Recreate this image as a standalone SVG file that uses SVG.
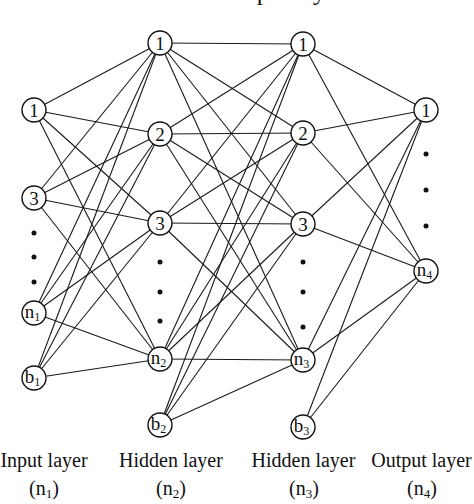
<svg xmlns="http://www.w3.org/2000/svg" width="474" height="504" viewBox="0 0 474 504">
<style>
.n circle{fill:#fff;stroke:#111;stroke-width:1.4}
.n text{font-family:"Liberation Serif","Times New Roman",serif;font-size:19px;text-anchor:middle;fill:#111}
.sub{font-size:12px}
#connectors line{stroke:#1a1a1a;stroke-width:1.1}
.dot{fill:#111}
.lbl{font-family:"Liberation Serif","Times New Roman",serif;font-size:20px;text-anchor:middle;fill:#111}
.lsub{font-size:13px}
</style>
<rect width="474" height="504" fill="#fff"/>
<text class="lbl" x="282" y="0" style="font-size:25px">Output layer</text>
<g id="connectors">
<line x1="34" y1="110" x2="160" y2="43"/><line x1="34" y1="110" x2="160" y2="134"/><line x1="34" y1="110" x2="160" y2="223"/><line x1="34" y1="110" x2="160" y2="359"/>
<line x1="34" y1="198" x2="160" y2="43"/><line x1="34" y1="198" x2="160" y2="134"/><line x1="34" y1="198" x2="160" y2="223"/><line x1="34" y1="198" x2="160" y2="359"/>
<line x1="34" y1="313" x2="160" y2="43"/><line x1="34" y1="313" x2="160" y2="134"/><line x1="34" y1="313" x2="160" y2="223"/><line x1="34" y1="313" x2="160" y2="359"/>
<line x1="34" y1="378" x2="160" y2="43"/><line x1="34" y1="378" x2="160" y2="134"/><line x1="34" y1="378" x2="160" y2="223"/><line x1="34" y1="378" x2="160" y2="359"/>
<line x1="160" y1="43" x2="303" y2="44"/><line x1="160" y1="43" x2="303" y2="133"/><line x1="160" y1="43" x2="303" y2="224"/><line x1="160" y1="43" x2="303" y2="360"/>
<line x1="160" y1="134" x2="303" y2="44"/><line x1="160" y1="134" x2="303" y2="133"/><line x1="160" y1="134" x2="303" y2="224"/><line x1="160" y1="134" x2="303" y2="360"/>
<line x1="160" y1="223" x2="303" y2="44"/><line x1="160" y1="223" x2="303" y2="133"/><line x1="160" y1="223" x2="303" y2="224"/><line x1="160" y1="223" x2="303" y2="360"/>
<line x1="160" y1="359" x2="303" y2="44"/><line x1="160" y1="359" x2="303" y2="133"/><line x1="160" y1="359" x2="303" y2="224"/><line x1="160" y1="359" x2="303" y2="360"/>
<line x1="160" y1="425" x2="303" y2="44"/><line x1="160" y1="425" x2="303" y2="133"/><line x1="160" y1="425" x2="303" y2="224"/><line x1="160" y1="425" x2="303" y2="360"/>
<line x1="303" y1="44" x2="426" y2="110"/><line x1="303" y1="44" x2="426" y2="271"/>
<line x1="303" y1="133" x2="426" y2="110"/><line x1="303" y1="133" x2="426" y2="271"/>
<line x1="303" y1="224" x2="426" y2="110"/><line x1="303" y1="224" x2="426" y2="271"/>
<line x1="303" y1="360" x2="426" y2="110"/><line x1="303" y1="360" x2="426" y2="271"/>
<line x1="303" y1="427" x2="426" y2="110"/><line x1="303" y1="427" x2="426" y2="271"/>
</g>
<g id="in1" class="n"><circle cx="34" cy="110" r="12"/><text x="34" y="116.5">1</text></g>
<g id="in3" class="n"><circle cx="34" cy="198" r="12"/><text x="34" y="204.5">3</text></g>
<g id="inn1" class="n"><circle cx="34" cy="313" r="12"/><text x="32.5" y="318"><tspan>n</tspan><tspan class="sub" dy="3">1</tspan></text></g>
<g id="inb1" class="n"><circle cx="34" cy="378" r="12"/><text x="32.5" y="383"><tspan>b</tspan><tspan class="sub" dy="3">1</tspan></text></g>
<g id="h1n1" class="n"><circle cx="160" cy="43" r="12"/><text x="160" y="49.5">1</text></g>
<g id="h1n2" class="n"><circle cx="160" cy="134" r="12"/><text x="160" y="140.5">2</text></g>
<g id="h1n3" class="n"><circle cx="160" cy="223" r="12"/><text x="160" y="229.5">3</text></g>
<g id="h1nn2" class="n"><circle cx="160" cy="359" r="12"/><text x="158.5" y="364"><tspan>n</tspan><tspan class="sub" dy="3">2</tspan></text></g>
<g id="h1b2" class="n"><circle cx="160" cy="425" r="12"/><text x="158.5" y="430"><tspan>b</tspan><tspan class="sub" dy="3">2</tspan></text></g>
<g id="h2n1" class="n"><circle cx="303" cy="44" r="12"/><text x="303" y="50.5">1</text></g>
<g id="h2n2" class="n"><circle cx="303" cy="133" r="12"/><text x="303" y="139.5">2</text></g>
<g id="h2n3" class="n"><circle cx="303" cy="224" r="12"/><text x="303" y="230.5">3</text></g>
<g id="h2nn3" class="n"><circle cx="303" cy="360" r="12"/><text x="301.5" y="365"><tspan>n</tspan><tspan class="sub" dy="3">3</tspan></text></g>
<g id="h2b3" class="n"><circle cx="303" cy="427" r="12"/><text x="301.5" y="432"><tspan>b</tspan><tspan class="sub" dy="3">3</tspan></text></g>
<g id="out1" class="n"><circle cx="426" cy="110" r="12"/><text x="426" y="116.5">1</text></g>
<g id="outn4" class="n"><circle cx="426" cy="271" r="12"/><text x="424.5" y="276"><tspan>n</tspan><tspan class="sub" dy="3">4</tspan></text></g>
<g id="dots">
<circle class="dot" cx="34" cy="233" r="2.5"/><circle class="dot" cx="34" cy="257" r="2.5"/><circle class="dot" cx="34" cy="282" r="2.5"/>
<circle class="dot" cx="160" cy="262" r="2.5"/><circle class="dot" cx="160" cy="292" r="2.5"/><circle class="dot" cx="160" cy="321" r="2.5"/>
<circle class="dot" cx="303" cy="262" r="2.5"/><circle class="dot" cx="303" cy="292" r="2.5"/><circle class="dot" cx="303" cy="327" r="2.5"/>
<circle class="dot" cx="426" cy="154" r="2.5"/><circle class="dot" cx="426" cy="190" r="2.5"/><circle class="dot" cx="426" cy="226" r="2.5"/>
</g>
<g id="labels">
<text class="lbl" x="44" y="467">Input layer</text>
<text class="lbl" x="171" y="467">Hidden layer</text>
<text class="lbl" x="303.5" y="467">Hidden layer</text>
<text class="lbl" x="421.5" y="467">Output layer</text>
<text class="lbl" x="44" y="495">(n<tspan class="lsub" dy="3">1</tspan><tspan dy="-3">)</tspan></text>
<text class="lbl" x="171" y="495">(n<tspan class="lsub" dy="3">2</tspan><tspan dy="-3">)</tspan></text>
<text class="lbl" x="304" y="495">(n<tspan class="lsub" dy="3">3</tspan><tspan dy="-3">)</tspan></text>
<text class="lbl" x="422" y="495">(n<tspan class="lsub" dy="3">4</tspan><tspan dy="-3">)</tspan></text>
</g>
</svg>
